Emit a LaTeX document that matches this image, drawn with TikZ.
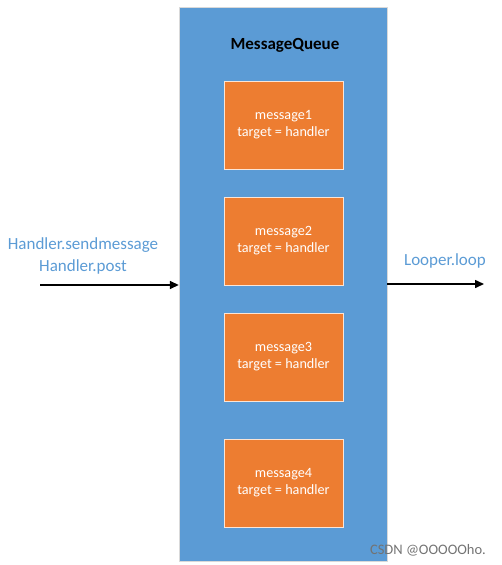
\documentclass[tikz,border=0pt]{standalone}
\usepackage{fontspec}
\setmainfont{Carlito}
\usetikzlibrary{arrows.meta}
\definecolor{qblue}{HTML}{5B9BD5}
\definecolor{morange}{HTML}{ED7D31}
\begin{document}
\begin{tikzpicture}[x=1pt, y=-1pt,
    msg/.style={draw=white!80!morange, fill=morange, text=white, minimum width=119pt, minimum height=88pt,
                inner sep=0pt, align=center, font=\fontsize{14.2}{17}\selectfont},
    lbl/.style={text=qblue, align=center, font=\fontsize{17}{21.5}\selectfont},
    flow/.style={line width=1.5pt, -{Triangle[length=9pt, width=8pt]}}]
        \useasboundingbox (0,0) rectangle (501,565);
        \node [draw=black!15, fill=qblue, minimum width=208pt, minimum height=554pt, inner sep=0pt] (queue) at (283,284) {};
        \node [font=\bfseries\fontsize{17}{20}\selectfont] (title) at (285,45) {MessageQueue};
        \node [msg] (m1) at (283.5,125) {message1\\target = handler};
        \node [msg] (m2) at (283.5,241) {message2\\target = handler};
        \node [msg] (m3) at (283.5,357) {message3\\target = handler};
        \node [msg] (m4) at (283.5,483) {message4\\target = handler};
        \coordinate (in) at (40,285);
        \coordinate (out) at (484,284);
        \draw [flow] (in) -- (queue.west |- in);
        \draw [flow] (queue.east |- out) -- (out);
        \node [lbl] (send) at (83,256) {Handler.sendmessage\\Handler.post};
        \node [lbl] (loop) at (445,261) {Looper.loop};
        \node [text=black!55, font=\fontsize{14.5}{17}\selectfont] (mark) at (428,550) {CSDN @OOOOOho.};
    \end{tikzpicture}
\end{document}
